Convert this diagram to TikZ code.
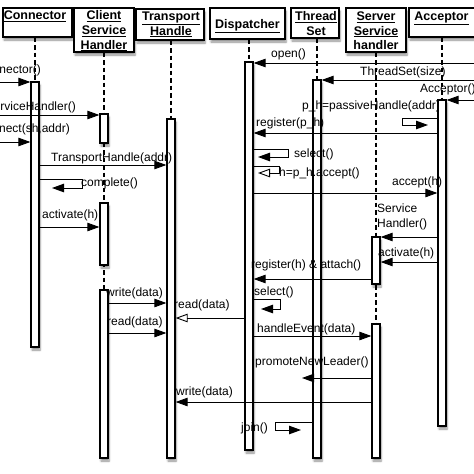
\documentclass[tikz,border=0pt]{standalone}
\usepackage{fontspec}
\setmainfont{Liberation Sans}
\usetikzlibrary{arrows.meta,shadows.blur}
\pgfdeclarelayer{bg}
\pgfsetlayers{bg,main}
\begin{document}
\begin{tikzpicture}[x=1pt,y=-1pt,
  shad/.style={blur shadow={shadow xshift=1pt,shadow yshift=-3pt,shadow blur steps=6,shadow opacity=45}},
  hbox/.style={draw,line width=1.3pt,fill=white,inner sep=0pt,shad},
  htxt/.style={font=\fontsize{12.5}{14.7}\selectfont\bfseries,align=center,inner sep=0pt,anchor=north},
  bar/.style={draw,line width=1.3pt,fill=white,minimum width=8pt,inner sep=0pt,shad},
  life/.style={line width=1.1pt,dash pattern=on 4.5pt off 3pt},
  msg/.style={line width=0.9pt,-{Triangle[length=12pt,width=8.5pt]}},
  omsg/.style={line width=0.9pt,-{Triangle[open,length=12pt,width=8.5pt]}},
  lbl/.style={font=\fontsize{12}{14}\selectfont,inner sep=0pt,anchor=base west}]
\useasboundingbox (0,0) rectangle (474,474);
\clip (0,0) rectangle (474,474);
\coordinate (L) at (-5,0);
\coordinate (R) at (480,0);

% header boxes
\node[hbox,minimum width=69pt,minimum height=29pt] (hCon) at (37.5,22.5) {};
\node[htxt] (tCon) at (35,10.5) {\underline{Connector}};
\node[hbox,minimum width=60pt,minimum height=44pt] (hCsh) at (104,30) {};
\node[htxt] (tCsh) at (104,10.5) {\underline{Client}\\\underline{Service}\\\underline{Handler}};
\node[hbox,minimum width=68pt,minimum height=31pt] (hTh) at (170,24.5) {};
\node[htxt] (tTh) at (171,11.5) {\underline{Transport}\\\underline{Handle}};
\node[hbox,minimum width=75pt,minimum height=31pt] (hDisp) at (247.5,23.5) {};
\node[htxt] (tDisp) at (247.5,19) {\underline{Dispatcher}};
\node[hbox,minimum width=48pt,minimum height=30pt] (hTs) at (315,23) {};
\node[htxt] (tTs) at (316,11.5) {\underline{Thread}\\\underline{Set}};
\node[hbox,minimum width=60pt,minimum height=44pt] (hSsh) at (376,30) {};
\node[htxt] (tSsh) at (376,11.5) {\underline{Server}\\\underline{Service}\\\underline{handler}};
\node[hbox,minimum width=69pt,minimum height=29pt] (hAcc) at (443.5,22.5) {};
\node[htxt] (tAcc) at (441.5,11.5) {\underline{Acceptor}};

% activation bars
\node[bar,minimum height=265pt] (conBar) at (35,214.5) {};
\node[bar,minimum height=29pt] (csh1) at (104,128.5) {};
\node[bar,minimum height=62pt] (csh2) at (104,234) {};
\node[bar,minimum height=168pt] (csh3) at (104,374) {};
\node[bar,minimum height=339pt] (thBar) at (171,288.5) {};
\node[bar,minimum height=388pt] (dispBar) at (249,256) {};
\node[bar,minimum height=378pt] (tsBar) at (317,269) {};
\node[bar,minimum height=47pt] (ssh1) at (376,260.5) {};
\node[bar,minimum height=134pt] (ssh2) at (376,391) {};
\node[bar,minimum height=326pt] (accBar) at (442,263) {};

% lifelines
\begin{pgfonlayer}{bg}
\draw[life] (hCon.south -| conBar.north) -- (conBar.north);
\draw[life] (hCsh.south -| csh1.north) -- (csh3.north);
\draw[life] (hTh.south -| thBar.north) -- (thBar.north);
\draw[life] (hDisp.south -| dispBar.north) -- (dispBar.north);
\draw[life] (hTs.south -| tsBar.north) -- (tsBar.north);
\draw[life] (hSsh.south -| ssh1.north) -- (ssh2.north);
\draw[life] (hAcc.south -| accBar.north) -- (accBar.north);
\end{pgfonlayer}

% messages
\draw[msg] (R |- 0,63) -- (dispBar.east |- 0,63);
\draw[msg] (L |- 0,82) -- (conBar.west |- 0,82);
\draw[msg] (R |- 0,80) -- (tsBar.east |- 0,80);
\draw[msg] (R |- 0,100) -- (accBar.east |- 0,100);
\draw[msg] (L |- 0,115) -- (csh1.west |- 0,115);
\draw[msg] (accBar.west |- 0,118) -- (402,118) -- (402,125) -- (428,125);
\draw[msg] (L |- 0,142) -- (conBar.west |- 0,142);
\draw[msg] (accBar.west |- 0,133) -- (dispBar.east |- 0,133);
\draw[msg] (conBar.east |- 0,165) -- (thBar.west |- 0,165);
\draw[msg] (dispBar.east |- 0,149) -- (288,149) -- (288,157) -- (258,157);
\draw[omsg] (dispBar.east |- 0,166) -- (279,166) -- (279,173) -- (258,173);
\draw[msg] (conBar.east |- 0,179) -- (82,179) -- (82,188) -- (52,188);
\draw[msg] (dispBar.east |- 0,193) -- (accBar.west |- 0,193);
\draw[msg] (accBar.west |- 0,237) -- (ssh1.east |- 0,237);
\draw[msg] (accBar.west |- 0,262) -- (ssh1.east |- 0,262);
\draw[msg] (conBar.east |- 0,227) -- (csh2.west |- 0,227);
\draw[msg] (ssh1.west |- 0,279) -- (dispBar.east |- 0,279);
\draw[msg] (dispBar.east |- 0,299) -- (280,299) -- (280,309) -- (261,309);
\draw[msg] (csh3.east |- 0,303) -- (thBar.west |- 0,303);
\draw[omsg] (dispBar.west |- 0,318) -- (thBar.east |- 0,318);
\draw[msg] (csh3.east |- 0,333) -- (thBar.west |- 0,333);
\draw[msg] (dispBar.east |- 0,336) -- (ssh2.west |- 0,336);
\draw[msg] (ssh2.west |- 0,378) -- (302,378);
\draw[msg] (ssh2.west |- 0,402) -- (thBar.east |- 0,402);
\draw[msg] (tsBar.west |- 0,422) -- (275,422) -- (275,430) -- (301,430);

% labels
\node[lbl] (lOpen) at (271,57) {open()};
\node[lbl,anchor=base east] (lConn) at (41,73) {Connector()};
\node[lbl] (lTS) at (360,75) {ThreadSet(size)};
\node[lbl] (lAcc) at (420,92) {Acceptor()};
\node[lbl,anchor=base east] (lSH) at (76,110) {ServiceHandler()};
\node[lbl] (lPH) at (302,109) {p\_h=passiveHandle(addr)};
\node[lbl,anchor=base east] (lCS) at (70,132) {connect(sh,addr)};
\node[lbl] (lReg) at (256,126) {register(p\_h)};
\node[lbl] (lTH) at (51,161) {TransportHandle(addr)};
\node[lbl] (lSel1) at (294,157) {select()};
\node[lbl] (lAcpt) at (279,176) {h=p\_h.accept()};
\node[lbl] (lComp) at (81,186) {complete()};
\node[lbl] (lAccH) at (392,185) {accept(h)};
\node[lbl] (lSHa) at (377,212) {Service};
\node[lbl] (lSHb) at (377,227) {Handler()};
\node[lbl] (lAct2) at (378,256) {activate(h)};
\node[lbl] (lAct1) at (42,218) {activate(h)};
\node[lbl] (lRegA) at (251,268) {register(h) \& attach()};
\node[lbl] (lSel2) at (254,295) {select()};
\node[lbl] (lW1) at (106,296) {write(data)};
\node[lbl] (lR1) at (174,308) {read(data)};
\node[lbl] (lR2) at (107,325) {read(data)};
\node[lbl] (lHE) at (257,332) {handleEvent(data)};
\node[lbl] (lPNL) at (255,365) {promoteNewLeader()};
\node[lbl] (lW2) at (176,395) {write(data)};
\node[lbl] (lJoin) at (241,431) {join()};
\end{tikzpicture}
\end{document}
